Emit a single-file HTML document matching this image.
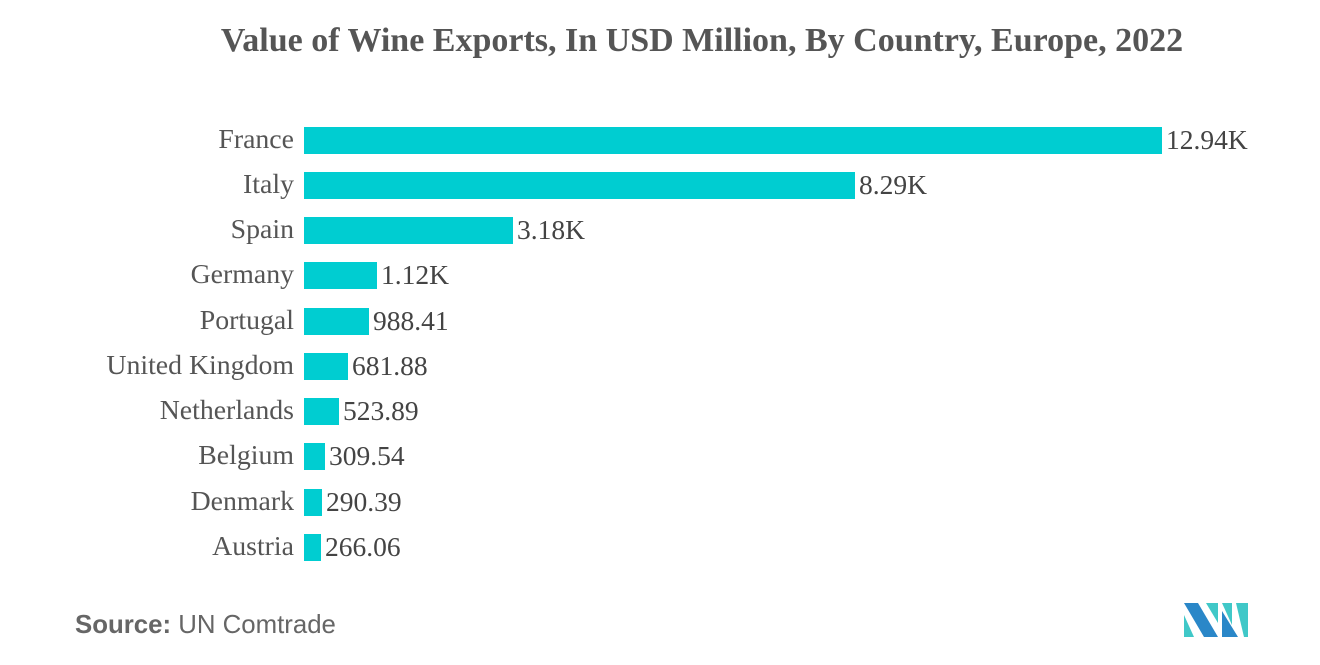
<!DOCTYPE html>
<html><head><style>
body{margin:0;width:1320px;height:665px;background:#fff;position:relative;overflow:hidden;font-family:"Liberation Serif",serif;}
.t{position:absolute;left:0;width:1404px;text-align:center;top:22px;font-weight:bold;font-size:34px;color:#555;}
.l{position:absolute;right:1026px;font-size:27.8px;color:#555;white-space:nowrap;line-height:28px;}
.b{position:absolute;left:304px;height:27px;background:#00cdd1;}
.v{position:absolute;font-size:27.5px;color:#444;line-height:28px;}
.s{position:absolute;left:75px;top:611px;font-family:"Liberation Sans",sans-serif;font-size:25.8px;color:#666;}
</style></head><body>
<div class="t">Value of Wine Exports, In USD Million, By Country, Europe, 2022</div>
<div class="l" style="top:126px">France</div><div class="b" style="top:127px;width:858px"></div><div class="v" style="top:126px;left:1166px">12.94K</div>
<div class="l" style="top:171px">Italy</div><div class="b" style="top:172px;width:551px"></div><div class="v" style="top:171px;left:859px">8.29K</div>
<div class="l" style="top:216px">Spain</div><div class="b" style="top:217px;width:209px"></div><div class="v" style="top:216px;left:517px">3.18K</div>
<div class="l" style="top:261px">Germany</div><div class="b" style="top:262px;width:73px"></div><div class="v" style="top:261px;left:381px">1.12K</div>
<div class="l" style="top:307px">Portugal</div><div class="b" style="top:308px;width:65px"></div><div class="v" style="top:307px;left:373px">988.41</div>
<div class="l" style="top:352px">United Kingdom</div><div class="b" style="top:353px;width:44px"></div><div class="v" style="top:352px;left:352px">681.88</div>
<div class="l" style="top:397px">Netherlands</div><div class="b" style="top:398px;width:35px"></div><div class="v" style="top:397px;left:343px">523.89</div>
<div class="l" style="top:442px">Belgium</div><div class="b" style="top:443px;width:21px"></div><div class="v" style="top:442px;left:329px">309.54</div>
<div class="l" style="top:488px">Denmark</div><div class="b" style="top:489px;width:18px"></div><div class="v" style="top:488px;left:326px">290.39</div>
<div class="l" style="top:533px">Austria</div><div class="b" style="top:534px;width:17px"></div><div class="v" style="top:533px;left:325px">266.06</div>
<div class="s"><b>Source:</b> UN Comtrade</div>
<svg style="position:absolute;left:1184px;top:603px" width="68" height="36" viewBox="0 0 68 36">
<polygon points="0,0 14,0 34,34 20,34" fill="#2a87c8"/>
<polygon points="0,12 10,34 0,34" fill="#40c8c8"/>
<polygon points="22,0 34,0 34,20" fill="#40c8c8"/>
<polygon points="38,0 48,0 48,22" fill="#40c8c8"/>
<polygon points="38,8 54,34 38,34" fill="#2a87c8"/>
<polygon points="52,0 64,0 64,34 60,34" fill="#40c8c8"/>
</svg>
</body></html>
